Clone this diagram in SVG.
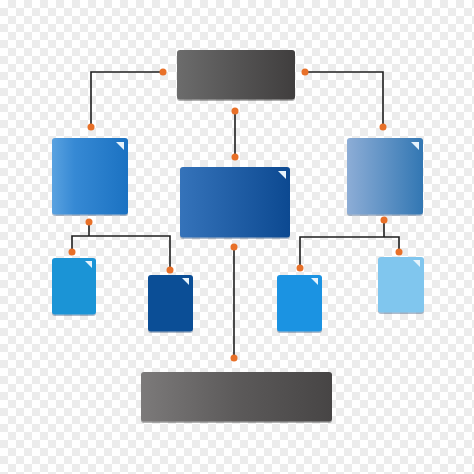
<svg xmlns="http://www.w3.org/2000/svg" width="474" height="474" viewBox="0 0 474 474">
<defs>
<pattern id="chk" width="16" height="16" patternUnits="userSpaceOnUse">
<rect width="16" height="16" fill="#ffffff"/>
<rect x="8" y="0" width="8" height="8" fill="#ececec"/>
<rect x="0" y="8" width="8" height="8" fill="#ececec"/>
</pattern>
<linearGradient id="gGray" x1="0" y1="0" x2="1" y2="0">
<stop offset="0" stop-color="#6c6c6c"/>
<stop offset="0.5" stop-color="#555454"/>
<stop offset="1" stop-color="#403e3e"/>
</linearGradient>
<linearGradient id="gGray2" x1="0" y1="0" x2="1" y2="0">
<stop offset="0" stop-color="#7c7a7a"/>
<stop offset="0.5" stop-color="#5c5a5a"/>
<stop offset="1" stop-color="#474545"/>
</linearGradient>
<linearGradient id="gL" x1="0" y1="0" x2="1" y2="0">
<stop offset="0" stop-color="#5aa2e0"/>
<stop offset="0.3" stop-color="#3689d4"/>
<stop offset="1" stop-color="#1b72c2"/>
</linearGradient>
<linearGradient id="gC" x1="0" y1="0" x2="1" y2="0">
<stop offset="0" stop-color="#3573ba"/>
<stop offset="1" stop-color="#0c4991"/>
</linearGradient>
<linearGradient id="gR" x1="0" y1="0" x2="1" y2="0">
<stop offset="0" stop-color="#8dadd6"/>
<stop offset="1" stop-color="#3277b3"/>
</linearGradient>
</defs>
<style>
.ln{fill:none;stroke:#1f1f1f;stroke-width:1.6}
.dot{fill:#e87028}
.fold{fill:#e6f3fc}
.sh{fill:#1c3f6e;opacity:0.35}
.gsh{fill:#222;opacity:0.35}
</style>
<rect width="474" height="474" fill="url(#chk)"/>

<g id="connectors">
<polyline class="ln" points="163,72 91,72 91,127"/>
<polyline class="ln" points="305,72 383,72 383,127"/>
<line class="ln" x1="235" y1="111" x2="235" y2="157"/>
<polyline class="ln" points="89,222 89,236"/>
<polyline class="ln" points="72,252 72,236 170,236 170,270"/>
<polyline class="ln" points="384,220 384,237"/>
<polyline class="ln" points="300,268 300,237 399,237 399,252"/>
<line class="ln" x1="234" y1="247" x2="234" y2="358"/>
<circle class="dot" cx="163" cy="72" r="3.5"/>
<circle class="dot" cx="305" cy="72" r="3.5"/>
<circle class="dot" cx="235" cy="111" r="3.5"/>
<circle class="dot" cx="91" cy="127" r="3.5"/>
<circle class="dot" cx="383" cy="127" r="3.5"/>
<circle class="dot" cx="235" cy="157" r="3.5"/>
<circle class="dot" cx="89" cy="222" r="3.5"/>
<circle class="dot" cx="384" cy="220" r="3.5"/>
<circle class="dot" cx="234" cy="247" r="3.5"/>
<circle class="dot" cx="72" cy="252" r="3.5"/>
<circle class="dot" cx="170" cy="270" r="3.5"/>
<circle class="dot" cx="300" cy="268" r="3.5"/>
<circle class="dot" cx="399" cy="252" r="3.5"/>
<circle class="dot" cx="234" cy="358" r="3.5"/>
</g>

<g id="top">
<rect class="gsh" x="177" y="51" width="118" height="50" rx="3"/>
<rect x="177" y="50" width="118" height="49.5" rx="3" fill="url(#gGray)"/>
</g>

<g id="left">
<rect class="sh" x="52" y="139" width="76" height="77" rx="3"/>
<rect x="52" y="138" width="76" height="76.5" rx="3" fill="url(#gL)"/>
<polygon class="fold" points="116,142 124,142 124,150"/>
</g>

<g id="center">
<rect class="sh" x="180" y="168" width="110" height="71" rx="3"/>
<rect x="180" y="167" width="110" height="70.5" rx="3" fill="url(#gC)"/>
<polygon class="fold" points="278,171 286,171 286,179"/>
</g>

<g id="right">
<rect class="sh" x="347" y="139" width="76" height="77" rx="3"/>
<rect x="347" y="138" width="76" height="76.5" rx="3" fill="url(#gR)"/>
<polygon class="fold" points="411,142 419,142 419,150"/>
</g>

<g id="s1">
<rect class="sh" x="52" y="259" width="44" height="57" rx="3"/>
<rect x="52" y="258" width="44" height="56.5" rx="3" fill="#1b94d6"/>
<polygon class="fold" points="85,261 92,261 92,268"/>
</g>

<g id="s2">
<rect class="sh" x="148" y="276" width="45" height="57" rx="3"/>
<rect x="148" y="275" width="45" height="56.5" rx="3" fill="#0b4e96"/>
<polygon class="fold" points="182,278 189,278 189,285"/>
</g>

<g id="s3">
<rect class="sh" x="277" y="276" width="45" height="57" rx="3"/>
<rect x="277" y="275" width="45" height="56.5" rx="3" fill="#1b93e2"/>
<polygon class="fold" points="311,278 318,278 318,285"/>
</g>

<g id="s4">
<rect class="sh" x="378" y="258" width="46" height="56" rx="3"/>
<rect x="378" y="257" width="46" height="55.5" rx="3" fill="#80c6ee"/>
<polygon class="fold" points="413,260 420,260 420,267"/>
</g>

<g id="bottom">
<rect class="gsh" x="141" y="373" width="191" height="50" rx="3"/>
<rect x="141" y="372" width="191" height="49.5" rx="3" fill="url(#gGray2)"/>
</g>
</svg>
